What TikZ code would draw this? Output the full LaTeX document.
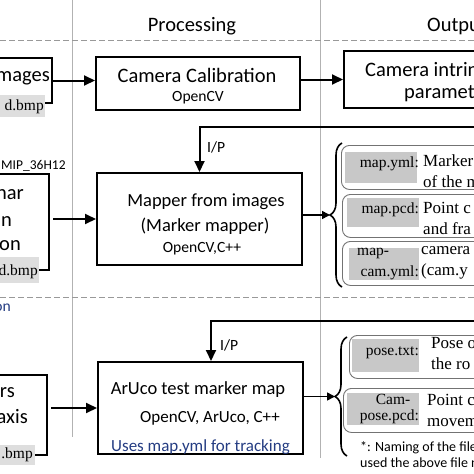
\documentclass[tikz,border=0pt]{standalone}
\usepackage{fontspec}
\setmainfont{Liberation Serif}
\newfontfamily\calfont{Carlito}
\usetikzlibrary{arrows.meta,decorations.pathreplacing}
\definecolor{noteblue}{RGB}{36,60,130}
\definecolor{cellgray}{RGB}{200,200,200}
\definecolor{srcgray}{RGB}{222,222,222}
\newcommand{\hdfont}{\calfont\fontsize{20.5}{24}\selectfont}
\newcommand{\tlfont}{\calfont\fontsize{18.5}{23}\selectfont}
\newcommand{\smallsans}{\calfont\fontsize{15.6}{19}\selectfont}
\newcommand{\midsans}{\calfont\fontsize{17}{20}\selectfont}
\newcommand{\capfont}{\calfont\fontsize{13.5}{16}\selectfont}
\newcommand{\namefont}{\fontsize{15.5}{19}\selectfont}
\newcommand{\descfont}{\fontsize{17}{21}\selectfont}
\newcommand{\notefont}{\calfont\fontsize{14}{16}\selectfont}
\tikzset{
  procbox/.style={draw, line width=2pt},
  arr/.style={line width=2pt, -{Triangle[length=11pt,width=10pt]}},
  smallarr/.style={line width=1.6pt, -{Triangle[length=8pt,width=8pt]}},
  sepline/.style={draw=black!40, line width=1pt, dash pattern=on 6pt off 3pt},
  colline/.style={draw=black!30, line width=1pt},
  outbox/.style={draw=black!55, line width=0.9pt, rounded corners=8pt, anchor=north west},
  srccell/.style={fill=srcgray, anchor=north west},
  fcell/.style={fill=cellgray, anchor=north west},
  desc/.style={font=\descfont, align=left, anchor=west},
  curly/.style={decorate, decoration={brace, amplitude=12pt}, line width=1.6pt},
  every node/.append style={inner sep=0pt},
}
\begin{document}
\begin{tikzpicture}[x=1pt,y=-1pt]
\useasboundingbox (0,0) rectangle (474,474);
\clip (0,0) rectangle (474,474);
% column rules
\draw[colline] (72,0) -- (72,437);
\draw[colline] (320,0) -- (320,458);
\draw[sepline] (0,40) -- (474,40);
\draw[sepline] (0,297) -- (474,297);
% headers
\node[font=\hdfont] (hproc) at (192,26) {Processing};
\node[font=\hdfont, anchor=west] (hout) at (427,26) {Output};

% 1st row: calibration
\node[procbox, minimum width=72pt, minimum height=45pt] (srcA) at (16,80.5) {};
\node[font=\hdfont, anchor=east] (srcAtxt) at (50,78) {mages};
\node[srccell, minimum width=45pt, minimum height=22pt] (srcAcell) at (0,95) {};
\node[font=\namefont, anchor=east] (srcAname) at (44,107) {d.bmp};
\node[procbox, minimum width=204pt, minimum height=53pt] (calib) at (198,83.5) {};
\node[font=\hdfont] (calibtxt) at (197,75) {Camera Calibration};
\node[font=\smallsans] (calibtool) at (198,98) {OpenCV};
\node[procbox, minimum width=200pt, minimum height=57pt] (intr) at (444,79.5) {};
\node[font=\hdfont, anchor=west] (intrA) at (365,69.5) {Camera intrin};
\node[font=\hdfont, anchor=west] (intrB) at (404,94) {paramet};
\draw[arr] (srcA.east) -- (srcA.east -| calib.west);
\draw[arr] (calib.east |- intr.west) -- (intr.west);

% 2nd row: mapping
\node[font=\capfont, anchor=west] (dictlbl) at (1,166) {MIP\_36H12};
\node[procbox, minimum width=69pt, minimum height=96pt] (srcB) at (14.5,222) {};
\node[font=\hdfont, anchor=east] (srcBa) at (24,195) {nar};
\node[font=\hdfont, anchor=east] (srcBb) at (12,222) {n};
\node[font=\hdfont, anchor=east] (srcBc) at (21,246) {on};
\node[srccell, minimum width=39pt, minimum height=26pt] (srcBcell) at (0,257) {};
\node[font=\namefont, anchor=east] (srcBname) at (38,272) {d.bmp};
\node[procbox, minimum width=205pt, minimum height=92pt] (mapper) at (199.5,219) {};
\node[font=\tlfont] (mapA) at (206,202) {Mapper from images};
\node[font=\tlfont] (mapB) at (205,226) {(Marker mapper)};
\node[font=\smallsans] (mapC) at (202,249) {OpenCV,C++};
\coordinate (ipA) at (480,127);
\draw[arr] (ipA) -| (mapper.north);
\node[font=\smallsans, anchor=west] (ipAlbl) at (207,147) {I/P};
\draw[arr, shorten <=3pt] (srcB.east |- mapper.west) -- (mapper.west);

% mapper outputs
\draw[curly] (342,287) -- (342,143);
\coordinate (tipA) at (330,215);
\draw[smallarr] (mapper.east |- tipA) -- (tipA);
\node[outbox, minimum width=160pt, minimum height=44pt] (outA) at (341,145) {};
\node[fcell, minimum width=72pt, minimum height=31pt] (cellA) at (345,152) {};
\node[font=\namefont, anchor=east] (nameA) at (419,164) {map.yml:};
\node[desc] (descA) at (423,171) {Marker\\of the m};
\node[outbox, minimum width=160pt, minimum height=43pt] (outB) at (342,194) {};
\node[fcell, minimum width=72pt, minimum height=29pt] (cellB) at (347,198) {};
\node[font=\namefont, anchor=east] (nameB) at (419,210) {map.pcd:};
\node[desc] (descB) at (423,218) {Point c\\and fra};
\node[outbox, minimum width=160pt, minimum height=44pt] (outC) at (342,241) {};
\node[fcell, minimum width=70pt, minimum height=32pt] (cellC) at (349,248) {};
\node[font=\namefont, anchor=west] (nameCa) at (357,253) {map-};
\node[font=\namefont, anchor=east] (nameCb) at (419,273) {cam.yml:};
\node[desc] (descC) at (421,263) {camera\\(cam.y};

% blue note
\node[font=\smallsans, text=noteblue, anchor=east] (bluenote) at (11,308) {on};

% 3rd row: tracking
\node[procbox, minimum width=67pt, minimum height=80pt] (srcC) at (13.5,415) {};
\node[font=\hdfont, anchor=east] (srcCa) at (15,393) {rs};
\node[font=\hdfont, anchor=east] (srcCb) at (28,417) {axis};
\node[srccell, minimum width=35pt, minimum height=20pt] (srcCcell) at (0,445) {};
\node[font=\namefont, anchor=east] (srcCname) at (33,455) {.bmp};
\node[procbox, minimum width=205pt, minimum height=92pt] (aruco) at (200.5,408) {};
\node[font=\tlfont] (arA) at (198,390) {ArUco test marker map};
\node[font=\midsans] (arB) at (210,418) {OpenCV, ArUco, C++};
\node[font=\midsans, text=noteblue] (arC) at (200.5,447) {Uses map.yml for tracking};
\coordinate (ipB) at (480,321);
\draw[arr] (ipB) -| ([xshift=10.5pt]aruco.north);
\node[font=\smallsans, anchor=west] (ipBlbl) at (220,345) {I/P};
\draw[arr, shorten <=3pt] (srcC.east |- aruco.west) -- (aruco.west);

% tracking outputs
\draw[curly] (347,456) -- (347,337);
\coordinate (tipB) at (335,396.5);
\draw[smallarr] (aruco.east |- tipB) -- (tipB);
\node[outbox, minimum width=150pt, minimum height=43pt] (outD) at (349,335) {};
\node[fcell, minimum width=67pt, minimum height=33pt] (cellD) at (352,339) {};
\node[font=\namefont, anchor=east] (nameD) at (419,353) {pose.txt:};
\node[desc] (descD) at (431,354) {Pose o\\the ro};
\node[outbox, minimum width=160pt, minimum height=44pt] (outE) at (343,388) {};
\node[fcell, minimum width=72pt, minimum height=32pt] (cellE) at (347,393) {};
\node[font=\namefont] (nameEa) at (393,399) {Cam-};
\node[font=\namefont, anchor=east] (nameEb) at (419,417) {pose.pcd:};
\node[desc] (descE) at (427,410) {Point c\\movem};
\node[font=\notefont, align=left, anchor=west] (note) at (360,455) {*: Naming of the file\\used the above file n};
\end{tikzpicture}
\end{document}
